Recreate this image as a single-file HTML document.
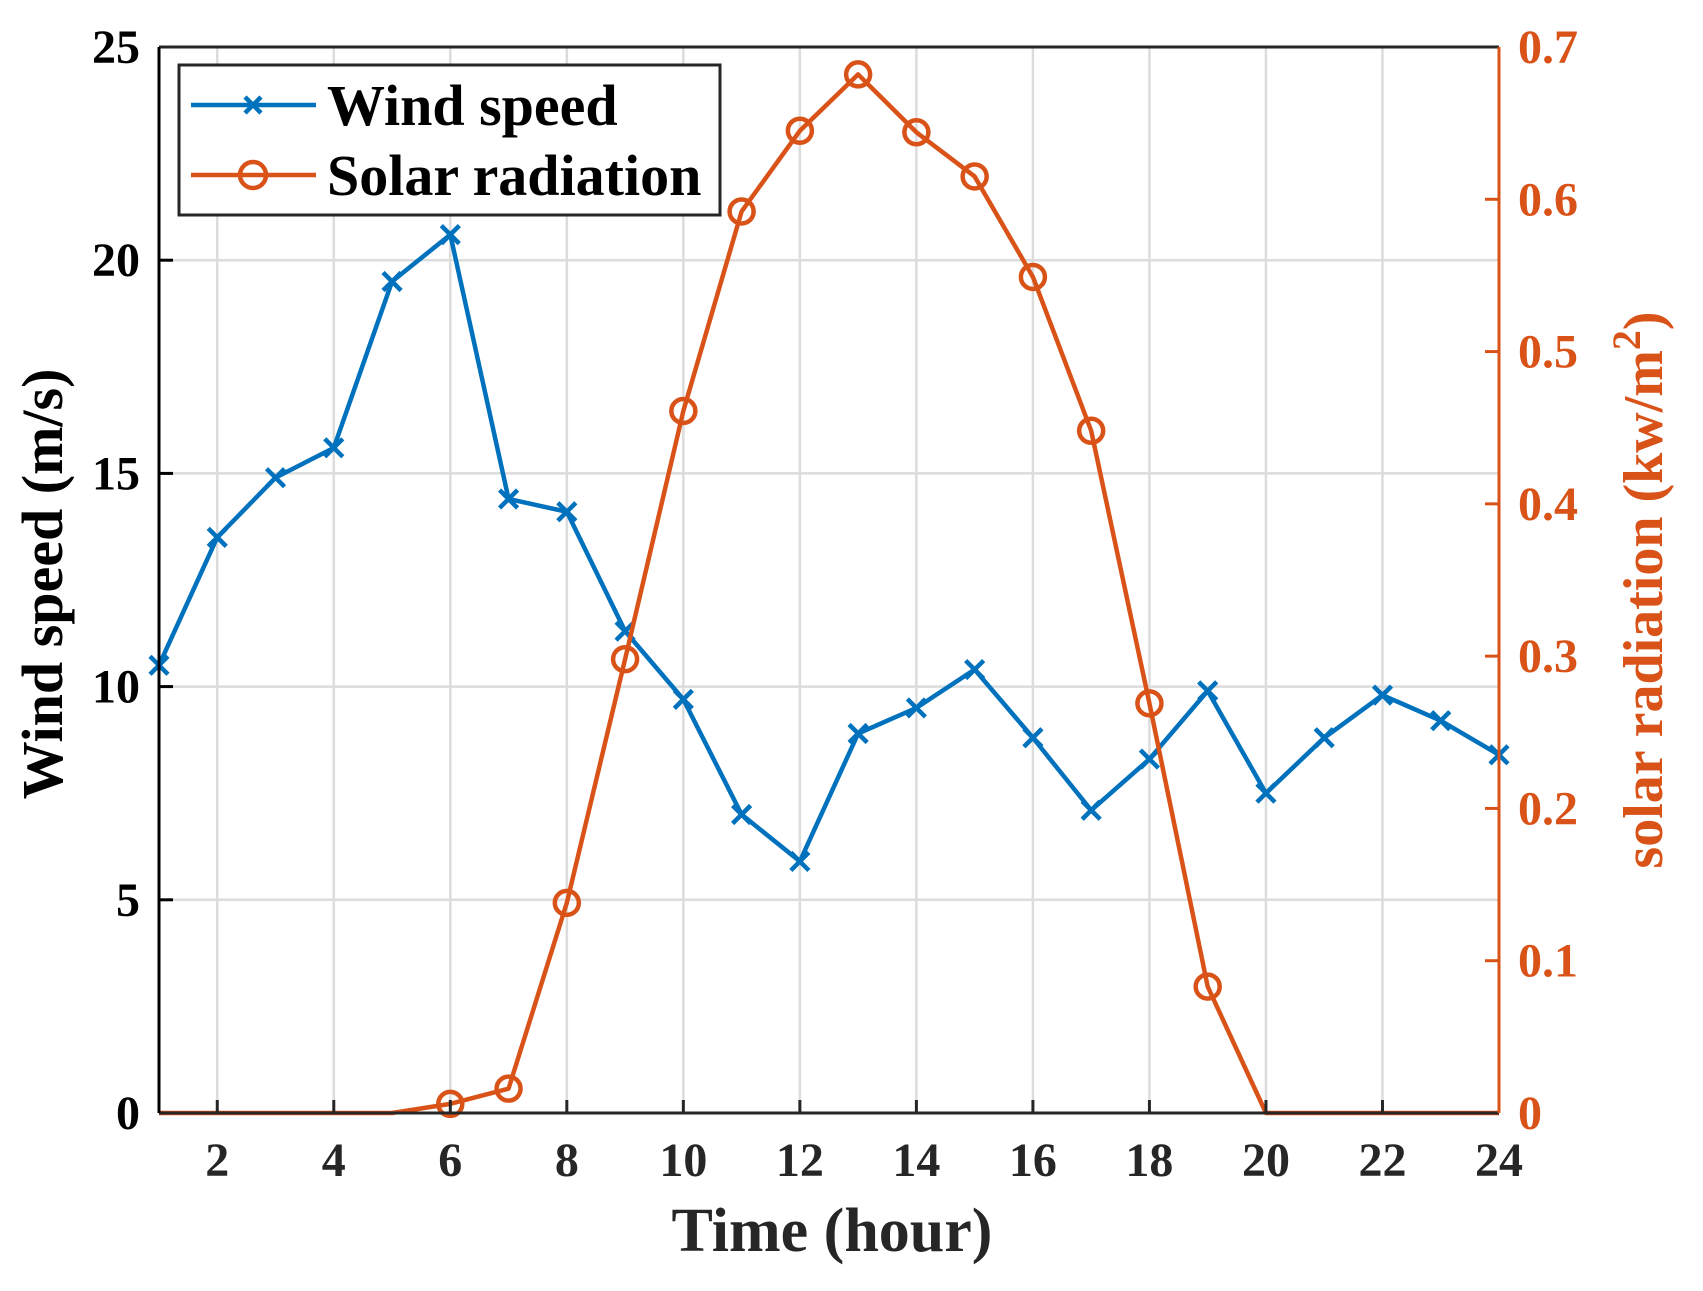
<!DOCTYPE html>
<html><head><meta charset="utf-8"><style>
html,body{margin:0;padding:0;background:#fff;}
svg{display:block;font-family:"Liberation Serif",serif;font-weight:bold;}
</style></head><body>
<svg id="chart" width="1703" height="1291" viewBox="0 0 1703 1291" xmlns="http://www.w3.org/2000/svg">
<g id="grid"></g>
<g id="series"></g>
<g id="axes"></g>
<text x="832" y="1251" text-anchor="middle" font-size="62" fill="#262626">Time (hour)</text>
<text transform="translate(62,584) rotate(-90)" text-anchor="middle" font-size="58" fill="#000">Wind speed (m/s)</text>
<text transform="translate(1662,590) rotate(-90)" text-anchor="middle" font-size="56" fill="#D95319">solar radiation (kw/m<tspan dy="-22" font-size="40">2</tspan><tspan dy="22">)</tspan></text>
<g>
<rect x="179" y="65" width="541" height="150" fill="#fff" stroke="#262626" stroke-width="3"/>
<g>
<line x1="191" y1="105" x2="316" y2="105" stroke="#0072BD" stroke-width="4.5"/>
<path d="M245,97 L261,113 M261,97 L245,113" stroke="#0072BD" stroke-width="4.5"/>
<text x="327" y="125" font-size="58" fill="#000">Wind speed</text>
</g>
<g>
<line x1="191" y1="175" x2="316" y2="175" stroke="#D95319" stroke-width="4.5"/>
<circle cx="253" cy="175" r="13" fill="none" stroke="#D95319" stroke-width="4.5"/>
<text x="327" y="195" font-size="58" fill="#000">Solar radiation</text>
</g>
</g>
</svg>
<script>
const hours=[1,2,3,4,5,6,7,8,9,10,11,12,13,14,15,16,17,18,19,20,21,22,23,24];
const windSpeed=[10.5,13.5,14.9,15.6,19.5,20.6,14.4,14.1,11.3,9.7,7.0,5.9,8.9,9.5,10.4,8.8,7.1,8.3,9.9,7.5,8.8,9.8,9.2,8.4];
const solarRadiation=[0,0,0,0,0,0.006,0.016,0.138,0.298,0.461,0.592,0.645,0.682,0.644,0.615,0.549,0.448,0.269,0.083,0,0,0,0,0];
const xTicks=[2,4,6,8,10,12,14,16,18,20,22,24];
const yTicksLeft=[0,5,10,15,20,25];
const yTicksRight=[0,0.1,0.2,0.3,0.4,0.5,0.6,0.7];
const yRightLabels=['0','0.1','0.2','0.3','0.4','0.5','0.6','0.7'];

const L=159,R=1499,T=47,B=1113;
const xs=h=>L+(h-1)/(24-1)*(R-L);
const yl=v=>B-v/25*(B-T);
const yr=v=>B-v/0.7*(B-T);
const NS='http://www.w3.org/2000/svg';
function mk(tag,attrs,parent){const e=document.createElementNS(NS,tag);for(const k in attrs)e.setAttribute(k,attrs[k]);parent.appendChild(e);return e;}
const grid=document.getElementById('grid'),series=document.getElementById('series'),axes=document.getElementById('axes');

xTicks.forEach(t=>{
 const g=mk('line',{x1:xs(t),x2:xs(t),y1:T,y2:B,stroke:'#dcdcdc','stroke-width':2.5},grid);
 
 
 const tk=mk('line',{x1:xs(t),x2:xs(t),y1:B,y2:B-13,stroke:'#262626','stroke-width':3},axes);
 
 
 const tt=mk('text',{x:xs(t),y:1176,'text-anchor':'middle','font-size':48,fill:'#262626'},axes);
 tt.textContent=t;
 
 
});
yTicksLeft.forEach(t=>{
 if(t>0&&t<25){const g=mk('line',{x1:L,x2:R,y1:yl(t),y2:yl(t),stroke:'#dcdcdc','stroke-width':2.5},grid);
 
 }
 const tk=mk('line',{x1:L,x2:L+14,y1:yl(t),y2:yl(t),stroke:'#000','stroke-width':3},axes);
 
 
 const tt=mk('text',{x:140,y:yl(t)+16,'text-anchor':'end','font-size':48,fill:'#000'},axes);
 tt.textContent=t;
 
 
});
yTicksRight.forEach((t,i)=>{
 const tk=mk('line',{x1:R,x2:R-14,y1:yr(t),y2:yr(t),stroke:'#D95319','stroke-width':3},axes);
 
 
 const tt=mk('text',{x:1518,y:yr(t)+16,'text-anchor':'start','font-size':48,fill:'#D95319'},axes);
 tt.textContent=yRightLabels[i];
 
 
});
let a=mk('line',{x1:L,x2:R,y1:T,y2:T,stroke:'#262626','stroke-width':3},axes);

a=mk('line',{x1:L,x2:R,y1:B,y2:B,stroke:'#262626','stroke-width':3},axes);

a=mk('line',{x1:L,x2:L,y1:T,y2:B,stroke:'#000','stroke-width':3},axes);

a=mk('line',{x1:R,x2:R,y1:T,y2:B,stroke:'#D95319','stroke-width':3},axes);


const wp=hours.map((h,i)=>xs(h)+','+yl(windSpeed[i])).join(' ');
const wl=mk('polyline',{points:wp,fill:'none',stroke:'#0072BD','stroke-width':4.5,'stroke-linejoin':'round'},series);


hours.forEach((h,i)=>{
 const x=xs(h),y=yl(windSpeed[i]);
 const m=mk('path',{d:`M${x-9},${y-9}L${x+9},${y+9}M${x+9},${y-9}L${x-9},${y+9}`,stroke:'#0072BD','stroke-width':4.5},series);
 
 
});
const sp=hours.map((h,i)=>xs(h)+','+yr(solarRadiation[i])).join(' ');
const sl=mk('polyline',{points:sp,fill:'none',stroke:'#D95319','stroke-width':4.5,'stroke-linejoin':'round'},series);


hours.forEach((h,i)=>{
 if(solarRadiation[i]<=0)return;
 const c=mk('circle',{cx:xs(h),cy:yr(solarRadiation[i]),r:12,fill:'none',stroke:'#D95319','stroke-width':4.5},series);
 
 
});
</script>
</body></html>
